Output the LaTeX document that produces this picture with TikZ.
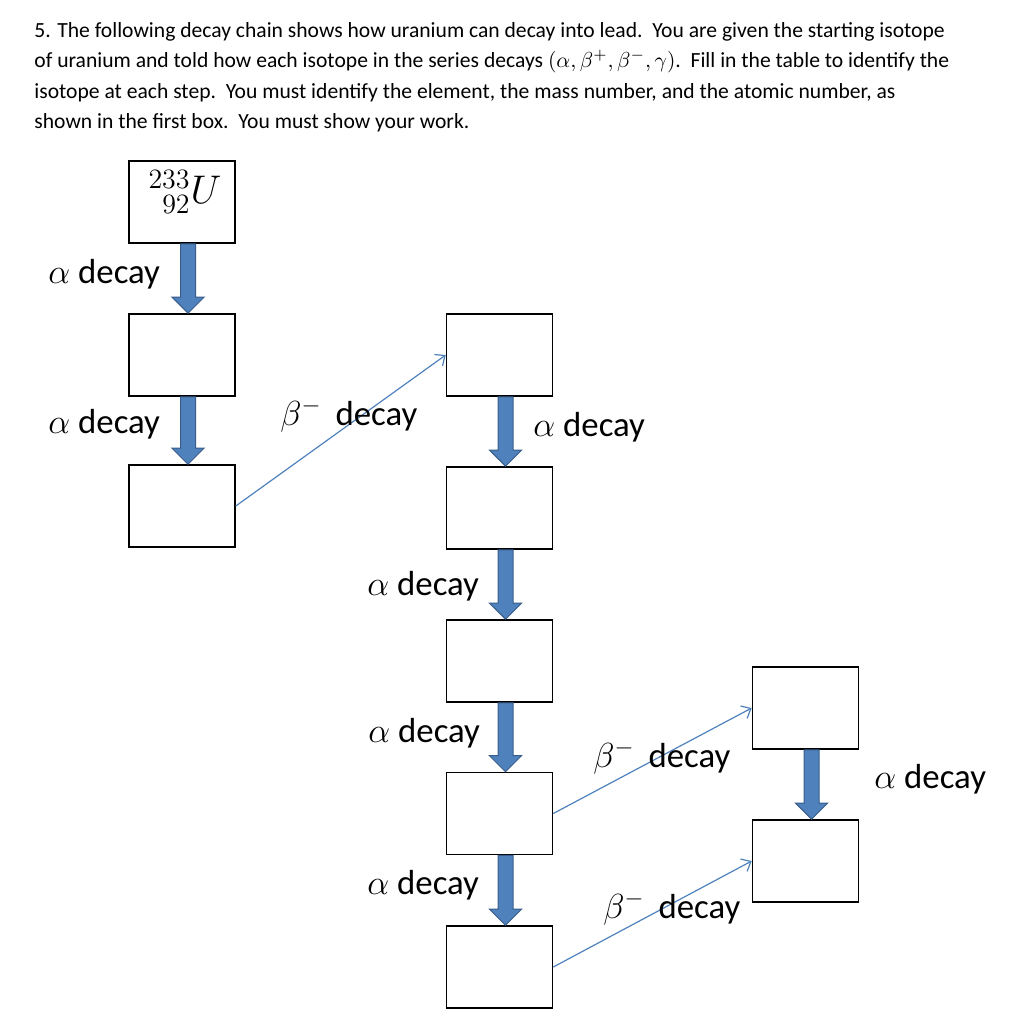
\RequirePackage{fix-cm}
\documentclass[tikz,border=0pt]{standalone}
\usepackage{amssymb}
\usepackage{amsmath}
\usepackage{fontspec}
\setmainfont{Carlito}
\usetikzlibrary{arrows.meta,calc}

\definecolor{decayblue}{RGB}{79,129,189}
\definecolor{decayedge}{RGB}{56,93,138}

\tikzset{
  isobox/.style={draw, line width=0.8pt, minimum width=53pt, minimum height=41pt, inner sep=0pt},
  fatarrow/.style={fill=decayblue, draw=decayedge, line width=0.5pt},
  betaline/.style={decayblue, line width=0.6pt, -{Straight Barb[length=4pt,width=7pt]}},
  decaylabel/.style={anchor=base west, inner sep=0pt, font=\fontsize{17.4}{20}\selectfont},
}

\begin{document}
\begin{tikzpicture}[x=0.5pt, y=-0.5pt]
    \useasboundingbox (0,0) rectangle (1024,1024);
    \node[anchor=north west, align=left, inner sep=0pt, font=\fontsize{10.8}{15.15}\selectfont] (prompt) at (34,22)
        {5. The following decay chain shows how uranium can decay into lead.\ \ You are given the starting isotope\\
         of uranium and told how each isotope in the series decays $(\alpha,\beta^{+},\beta^{-},\gamma)$.\ \ Fill in the table to identify the\\
         isotope at each step.\ \ You must identify the element, the mass number, and the atomic number, as\\
         shown in the first box.\ \ You must show your work.};
    % isotope boxes
    \node[isobox] (u1) at (182,202) {};
    \node[isobox] (u2) at (182,355) {};
    \node[isobox] (u3) at (182,506) {};
    \node[isobox] (c1) at (499.5,355) {};
    \node[isobox] (c2) at (499.5,508) {};
    \node[isobox] (c3) at (499.5,661) {};
    \node[isobox] (c4) at (499.5,813.5) {};
    \node[isobox] (c5) at (499.5,967) {};
    \node[isobox] (r1) at (805.5,708) {};
    \node[isobox] (r2) at (805.5,861) {};
    \node[inner sep=0pt, font=\fontsize{20}{24}\selectfont] (isotope) at (185,192) {${}^{233}_{\hphantom{2}92}U$};
    % alpha arrows
    \foreach \a/\b in {u1/u2, u2/u3, c1/c2, c2/c3, c3/c4, c4/c5, r1/r2}
        \filldraw[fatarrow] ($(\a.south)+(-1.5,0)$) -- ($(\a.south)+(13.5,0)$) -- ($(\b.north)+(13.5,-16)$)
            -- ($(\b.north)+(22,-16)$) -- ($(\b.north)+(6,0)$) -- ($(\b.north)+(-10,-16)$)
            -- ($(\b.north)+(-1.5,-16)$) -- cycle;
    % beta arrows
    \draw[betaline] (u3.east) -- (c1.west);
    \draw[betaline] (c4.east) -- (r1.west);
    \draw[betaline] (c5.east) -- (r2.west);
    % labels
    \node[decaylabel] (la1) at (48,283) {$\alpha$ decay};
    \node[decaylabel] (la2) at (48,433) {$\alpha$ decay};
    \node[decaylabel] (lb1) at (280,425) {$\beta^{-}$\hspace{7pt}decay};
    \node[decaylabel] (la3) at (533,436) {$\alpha$ decay};
    \node[decaylabel] (la4) at (367,595) {$\alpha$ decay};
    \node[decaylabel] (la5) at (368,742) {$\alpha$ decay};
    \node[decaylabel] (la6) at (367,894) {$\alpha$ decay};
    \node[decaylabel] (lb2) at (593,767) {$\beta^{-}$\hspace{7pt}decay};
    \node[decaylabel] (lb3) at (603,918) {$\beta^{-}$\hspace{7pt}decay};
    \node[decaylabel] (la7) at (874,788) {$\alpha$ decay};
\end{tikzpicture}
\end{document}
